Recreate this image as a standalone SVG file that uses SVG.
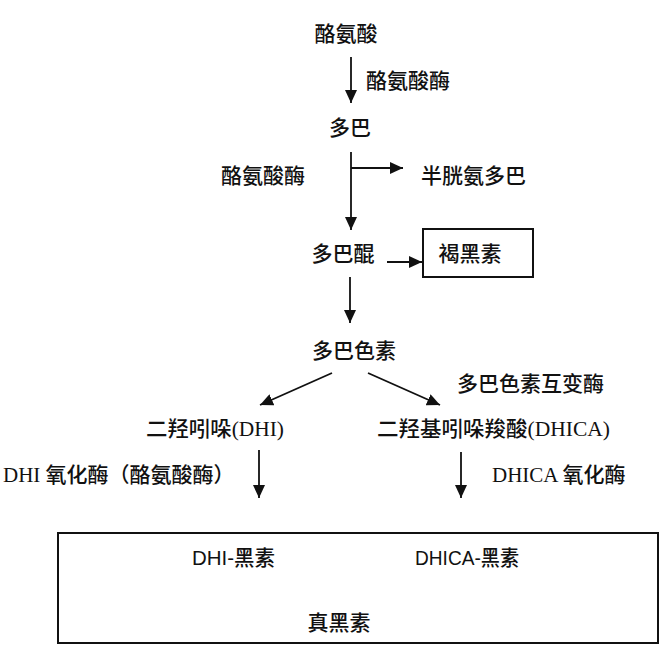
<svg xmlns="http://www.w3.org/2000/svg" width="670" height="668" viewBox="0 0 670 668">
<defs>
<marker id="ah" markerUnits="userSpaceOnUse" markerWidth="14" markerHeight="12" refX="13" refY="6" orient="auto">
<path d="M0,0 L13,6 L0,12 z" fill="#111"/>
</marker>
<style>
text{font-family:"Liberation Serif","Noto Sans CJK SC",serif;font-size:21px;font-weight:500;fill:#111}
.c{text-anchor:middle}
.m{font-family:"Liberation Sans","Noto Sans CJK SC",sans-serif}
.ln{stroke:#111;stroke-width:1.8;fill:none}
.bx{stroke:#111;stroke-width:2;fill:none}
</style>
</defs>
<rect width="670" height="668" fill="#fff"/>
<g id="tyrosine"><text x="346" y="41" class="c">酪氨酸</text></g>
<g id="label-tyrosinase-1"><text x="366" y="88">酪氨酸酶</text></g>
<g id="dopa"><text x="350" y="135" class="c">多巴</text></g>
<g id="label-tyrosinase-2"><text x="221" y="183">酪氨酸酶</text></g>
<g id="cysteinyldopa"><text x="421" y="183">半胱氨多巴</text></g>
<g id="dopaquinone"><text x="343" y="261" class="c">多巴醌</text></g>
<g id="pheomelanin"><rect x="423" y="229" width="110" height="48" class="bx"/><text x="470" y="261" class="c">褐黑素</text></g>
<g id="dopachrome"><text x="354" y="358" class="c">多巴色素</text></g>
<g id="label-tautomerase"><text x="457" y="391">多巴色素互变酶</text></g>
<g id="dhi"><text x="146" y="436" textLength="138" lengthAdjust="spacingAndGlyphs">二羟吲哚(DHI)</text></g>
<g id="dhica"><text x="377" y="436" textLength="233" lengthAdjust="spacingAndGlyphs">二羟基吲哚羧酸(DHICA)</text></g>
<g id="label-dhi-oxidase"><text x="3" y="482">DHI 氧化酶（酪氨酸酶）</text></g>
<g id="label-dhica-oxidase"><text x="492" y="482">DHICA 氧化酶</text></g>
<g id="eumelanin">
<rect x="58" y="533" width="600" height="110" class="bx"/>
<text x="192" y="565" class="m" font-size="20" textLength="83" lengthAdjust="spacingAndGlyphs">DHI-黑素</text>
<text x="415" y="565" class="m" font-size="20" textLength="104" lengthAdjust="spacingAndGlyphs">DHICA-黑素</text>
<text x="339" y="630" class="c m" font-size="20">真黑素</text>
</g>
<g id="connectors">
<line x1="351" y1="57" x2="351" y2="103" class="ln" marker-end="url(#ah)"/>
<line x1="351" y1="152" x2="351" y2="230" class="ln" marker-end="url(#ah)"/>
<line x1="351" y1="168" x2="403" y2="168" class="ln" marker-end="url(#ah)"/>
<line x1="387" y1="262" x2="422" y2="262" class="ln" marker-end="url(#ah)"/>
<line x1="350" y1="277" x2="350" y2="323" class="ln" marker-end="url(#ah)"/>
<line x1="332" y1="373" x2="260" y2="405" class="ln" marker-end="url(#ah)"/>
<line x1="368" y1="373" x2="440" y2="405" class="ln" marker-end="url(#ah)"/>
<line x1="259" y1="450" x2="259" y2="498" class="ln" marker-end="url(#ah)"/>
<line x1="461" y1="452" x2="461" y2="498" class="ln" marker-end="url(#ah)"/>
</g>
</svg>
